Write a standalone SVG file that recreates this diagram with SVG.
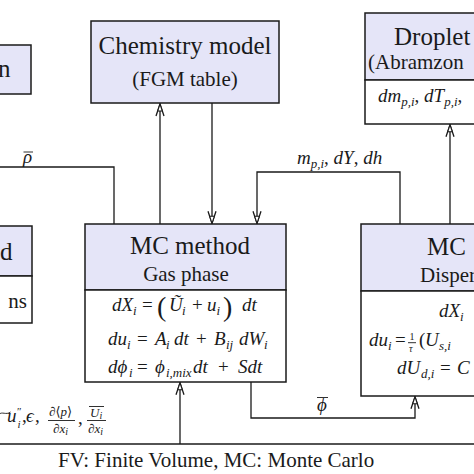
<svg xmlns="http://www.w3.org/2000/svg" width="474" height="474" viewBox="0 0 474 474" font-family="'Liberation Serif', 'DejaVu Serif', serif">
<defs>
<style>
.box{stroke:#1a1a1a;stroke-width:1.5}
.ti{fill:#e5e5f8}
.bd{fill:#ffffff}
.t{font-family:'Liberation Serif','DejaVu Serif',serif;fill:#1a1a1a}
.m{font-family:'Liberation Serif','DejaVu Serif',serif;font-style:italic;fill:#1a1a1a}
.c{fill:none;stroke:#1a1a1a;stroke-width:1.3}
.ov{stroke:#1a1a1a;stroke-width:0.9}
.h{font-size:25px}
.s{font-size:21px}
.e{font-size:19px}
.sb{font-size:13px}
.n{font-style:normal}
</style>
<marker id="ar" markerUnits="userSpaceOnUse" viewBox="-13 -5 14 10" refX="0" refY="0" markerWidth="14" markerHeight="10" orient="auto">
<path d="M-12,-4 L0,0 L-12,4" fill="none" stroke="#1a1a1a" stroke-width="1.3"/>
<path d="M0,0 L-7,-2.3 L-7,2.3 Z" fill="#ffffff" stroke="#1a1a1a" stroke-width="1.1"/>
</marker>
</defs>
<rect x="0" y="0" width="474" height="474" fill="#ffffff"/>

<g id="connectors">
<path class="c" d="M160,224 V104" marker-end="url(#ar)"/>
<path class="c" d="M212,103 V223.3" marker-end="url(#ar)"/>
<path class="c" d="M-2,167 H114 V224"/>
<path class="c" d="M400,224 V172 H257 V223.3" marker-end="url(#ar)"/>
<path class="c" d="M450,224 V124.8" marker-end="url(#ar)"/>
<path class="c" d="M251,382 V418 H415 V396.8" marker-end="url(#ar)"/>
<path class="c" d="M-2,444 H476"/>
<path class="c" d="M180,444 V382.8" marker-end="url(#ar)"/>
</g>

<g id="label-rho">
<text class="m e" x="23" y="163">ρ</text>
<line class="ov" x1="23.5" y1="152" x2="33" y2="152"/>
</g>
<g id="label-mdydh">
<text class="m e" x="297" y="164">m<tspan class="sb" dy="4">p,i</tspan><tspan dy="-4" class="n">, </tspan>dY<tspan class="n">, </tspan>dh</text>
</g>
<g id="label-phi">
<text class="m e" x="317" y="411">ϕ</text>
<line class="ov" x1="317" y1="397.5" x2="328" y2="397.5"/>
</g>
<g id="label-fv-out">
<path d="M-1,414.5 C2,411 6,415.5 10.5,412" fill="none" stroke="#1a1a1a" stroke-width="0.9"/>
<text class="m e" x="7" y="422">u<tspan class="n" font-size="11" x="17" y="415">″</tspan><tspan font-size="11" x="17.5" y="428">i</tspan><tspan class="n" x="22" y="422">,</tspan><tspan x="26" y="422">ϵ</tspan><tspan class="n" x="35" y="422">,</tspan><tspan font-size="13" x="49" y="416">∂<tspan class="n">⟨</tspan>p<tspan class="n">⟩</tspan></tspan><tspan font-size="13" x="53" y="433">∂x<tspan font-size="10" dy="2">i</tspan></tspan><tspan class="n" x="78" y="424">,</tspan><tspan font-size="13" x="90" y="417">U<tspan font-size="10" dy="2">i</tspan></tspan><tspan font-size="13" x="88" y="433">∂x<tspan font-size="10" dy="2">i</tspan></tspan></text>
<line class="ov" x1="48" y1="420.5" x2="75" y2="420.5"/>
<line class="ov" x1="89" y1="406.5" x2="104" y2="406.5"/>
<line class="ov" x1="87" y1="420.5" x2="106" y2="420.5"/>
</g>

<g id="node-left-top">
<rect class="box ti" x="-5" y="45" width="36" height="49"/>
<text class="t h" x="-2" y="77">n</text>
</g>

<g id="node-left-mid">
<rect class="box ti" x="-5" y="226" width="37" height="50"/>
<rect class="box bd" x="-5" y="276" width="37" height="47"/>
<text class="t h" x="12.5" y="260" text-anchor="end">d</text>
<text class="t s" x="27" y="308" text-anchor="end">ns</text>
</g>

<g id="node-chemistry">
<rect class="box ti" x="91" y="21" width="188" height="82"/>
<text class="t h" x="185" y="54" text-anchor="middle">Chemistry model</text>
<text class="t s" x="185" y="86" text-anchor="middle">(FGM table)</text>
</g>

<g id="node-mc-gas">
<rect class="box ti" x="85" y="224" width="201" height="66"/>
<rect class="box bd" x="85" y="290" width="201" height="92"/>
<text class="t h" x="190" y="254" text-anchor="middle">MC method</text>
<text class="t s" x="186" y="281" text-anchor="middle">Gas phase</text>
<text class="m e" x="112" y="311">dX<tspan class="sb" x="133" y="315">i</tspan><tspan class="n" x="142" y="311">=</tspan><tspan class="n" font-size="28" x="157" y="316">(</tspan><tspan x="169" y="311">Ũ</tspan><tspan class="sb" x="182" y="315">i</tspan><tspan class="n" x="192" y="311">+</tspan><tspan x="207" y="311">u</tspan><tspan class="sb" x="216.5" y="315">i</tspan><tspan class="n" font-size="28" x="223" y="316">)</tspan><tspan x="242" y="311">dt</tspan></text>
<text class="m e" x="108" y="345">du<tspan class="sb" x="127" y="349">i</tspan><tspan class="n" x="137" y="345">=</tspan><tspan x="155" y="345">A</tspan><tspan class="sb" x="166" y="349">i</tspan><tspan x="174" y="345">dt</tspan><tspan class="n" x="196" y="345">+</tspan><tspan x="214" y="345">B</tspan><tspan class="sb" x="226" y="349">ij</tspan><tspan x="239" y="345">dW</tspan><tspan class="sb" x="264" y="349">i</tspan></text>
<text class="m e" x="108" y="373">dϕ<tspan class="sb" x="129" y="377">i</tspan><tspan class="n" x="137" y="373">=</tspan><tspan x="155" y="373">ϕ</tspan><tspan class="sb" x="166" y="377">i,mix</tspan><tspan x="193" y="373">dt</tspan><tspan class="n" x="218" y="373">+</tspan><tspan x="238" y="373">Sdt</tspan></text>
</g>

<g id="node-droplet">
<rect class="box ti" x="365" y="13" width="120" height="67"/>
<rect class="box bd" x="365" y="80" width="120" height="44"/>
<text class="t h" x="394" y="45">Droplet</text>
<text class="t s" x="368" y="69">(Abramzon</text>
<text class="m e" x="378" y="102">dm<tspan class="sb" dy="4">p,i</tspan><tspan dy="-4" class="n">, </tspan>dT<tspan class="sb" dy="4">p,i</tspan><tspan dy="-4" class="n">,</tspan></text>
</g>

<g id="node-mc-disp">
<rect class="box ti" x="361" y="224" width="120" height="67"/>
<rect class="box bd" x="361" y="291" width="120" height="105"/>
<text class="t h" x="427" y="255">MC</text>
<text class="t s" x="420" y="282">Disper</text>
<text class="m e" x="439" y="317">dX<tspan class="sb" x="460" y="321">i</tspan></text>
<text class="m e" x="369" y="346">du<tspan class="sb" x="388" y="350">i</tspan><tspan class="n" x="395" y="346">=</tspan><tspan class="n" font-size="10" x="409.5" y="340">1</tspan><tspan font-size="10" x="409" y="352">τ</tspan><tspan class="n" x="419" y="346">(</tspan><tspan x="425" y="346">U</tspan><tspan class="sb" x="439" y="350">s,i</tspan></text>
<line class="ov" x1="408" y1="342.7" x2="416" y2="342.7"/>
<text class="m e" x="397" y="374">dU<tspan class="sb" x="421" y="378">d,i</tspan><tspan class="n" x="440" y="374">=</tspan><tspan x="457" y="374">C</tspan></text>
</g>

<g id="caption">
<text class="t s" x="58" y="467">FV: Finite Volume, MC: Monte Carlo</text>
</g>
</svg>
